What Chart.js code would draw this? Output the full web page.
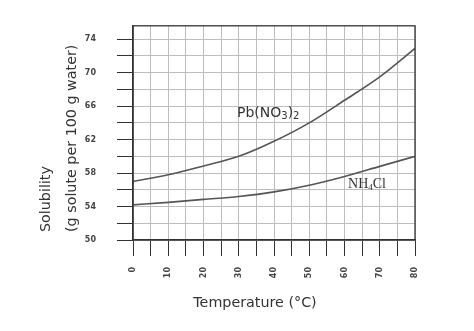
<!DOCTYPE html>
<html>
<head>
<meta charset="utf-8">
<script src="https://cdn.jsdelivr.net/npm/chart.js@4"></script>
<style>
html,body{margin:0;padding:0;background:#fff;}
canvas{display:block;}
</style>
</head>
<body>
<canvas id="c" width="474" height="331"></canvas>
<script>
// ---- data ----
const temperatures = [0, 10, 20, 30, 40, 50, 60, 70, 80];
const pbNO3 = [57.0, 57.8, 58.85, 60.0, 61.8, 64.0, 66.7, 69.5, 72.9];
const nh4Cl = [54.2, 54.5, 54.85, 55.2, 55.75, 56.55, 57.6, 58.8, 60.0];
const xTickLabels = [0, 10, 20, 30, 40, 50, 60, 70, 80];
const yTickLabels = [50, 54, 58, 62, 66, 70, 74];
const xTitle = 'Temperature (°C)';
const yTitleLines = ['Solubility', '(g solute per 100 g water)'];

const toPts = (xs, ys) => xs.map((x, i) => ({x: x, y: ys[i]}));

const decor = {
  id: 'decor',
  afterDraw(chart) {
    const ctx = chart.ctx, a = chart.chartArea;
    const xs = chart.scales.x, ys = chart.scales.y;
    ctx.save();
    // frame
    ctx.strokeStyle = '#333';
    ctx.lineWidth = 1.3;
    ctx.strokeRect(a.left, a.top, a.right - a.left, a.bottom - a.top);
    // x tick labels rotated (reading upward)
    ctx.fillStyle = '#444';
    ctx.font = 'bold 8px "DejaVu Sans"';
    xTickLabels.forEach(v => {
      const px = xs.getPixelForValue(v);
      ctx.save();
      ctx.translate(px, a.bottom + 27);
      ctx.rotate(-Math.PI / 2);
      ctx.textAlign = 'right';
      ctx.textBaseline = 'middle';
      ctx.fillText(String(v), 0, 0);
      ctx.restore();
    });
    // axis titles
    ctx.fillStyle = '#333';
    ctx.font = '14.3px "DejaVu Sans"';
    ctx.textAlign = 'center';
    ctx.textBaseline = 'middle';
    ctx.fillText(xTitle, (a.left + a.right) / 2 - 19, a.bottom + 63);
    const tx = [46, 72];
    yTitleLines.forEach((t, i) => {
      ctx.save();
      ctx.translate(tx[i], a.bottom - 8);
      ctx.rotate(-Math.PI / 2);
      ctx.textAlign = 'left';
      ctx.textBaseline = 'middle';
      ctx.fillText(t, 0, 0);
      ctx.restore();
    });
    // series labels with subscripts
    const drawParts = (parts, x, y, font, subFont) => {
      ctx.textAlign = 'left';
      ctx.textBaseline = 'middle';
      let cx = x;
      parts.forEach(p => {
        ctx.font = p.sub ? subFont : font;
        ctx.fillText(p.t, cx, p.sub ? y + 3 : y);
        cx += ctx.measureText(p.t).width;
      });
    };
    ctx.fillStyle = '#333';
    drawParts([{t: 'Pb(NO'}, {t: '3', sub: true}, {t: ')'}, {t: '2', sub: true}],
      xs.getPixelForValue(29.5), ys.getPixelForValue(65.1),
      '14px "DejaVu Sans"', '10px "DejaVu Sans"');
    drawParts([{t: 'NH'}, {t: '4', sub: true}, {t: 'Cl'}],
      xs.getPixelForValue(61), ys.getPixelForValue(56.6),
      '14px "Liberation Serif"', '9px "Liberation Serif"');
    ctx.restore();
  }
};

new Chart(document.getElementById('c'), {
  type: 'line',
  data: {
    datasets: [
      {label: 'Pb(NO3)2', data: toPts(temperatures, pbNO3), borderColor: '#555', borderWidth: 1.6, pointRadius: 0, cubicInterpolationMode: 'monotone', fill: false},
      {label: 'NH4Cl', data: toPts(temperatures, nh4Cl), borderColor: '#555', borderWidth: 1.6, pointRadius: 0, cubicInterpolationMode: 'monotone', fill: false}
    ]
  },
  options: {
    responsive: false,
    animation: false,
    events: [],
    layout: {autoPadding: false, padding: {left: 0, right: 59, top: 15, bottom: 0}},
    plugins: {legend: {display: false}, tooltip: {enabled: false}},
    scales: {
      x: {
        type: 'linear', min: 0, max: 80,
        ticks: {display: false, stepSize: 5},
        grid: {color: '#bdbdbd', lineWidth: 1, tickColor: '#333', tickLength: 16, drawTicks: true},
        border: {color: '#333', width: 1.3},
        afterFit(s) { s.height = 91; }
      },
      y: {
        type: 'linear', min: 50, max: 75.6,
        ticks: {
          stepSize: 2, includeBounds: false, padding: 21,
          color: '#444', font: {family: 'DejaVu Sans', size: 8, weight: 'bold'},
          callback: v => yTickLabels.includes(v) ? String(v) : ''
        },
        grid: {color: '#bdbdbd', lineWidth: 1, tickColor: '#333', tickLength: 16, drawTicks: true},
        border: {color: '#333', width: 1.3},
        afterFit(s) { s.width = 133; }
      }
    }
  },
  plugins: [decor]
});
</script>
</body>
</html>
